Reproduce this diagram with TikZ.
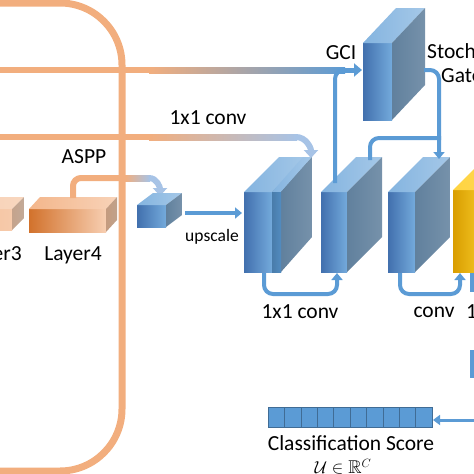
\documentclass[tikz,border=0pt]{standalone}
\usepackage{amssymb}
\usepackage{fontspec}
\setmainfont{Carlito}
\usetikzlibrary{arrows.meta}
\definecolor{corange}{HTML}{F2AE7E}
\definecolor{cblue}{HTML}{5B9BD5}
\definecolor{clblue}{HTML}{A7C3E6}
\definecolor{cdorange}{HTML}{D2722C}
\tikzset{
  bluefront/.style={left color=blue!10!cblue!80!black, right color=cblue!85!white},
  bluetop/.style={left color=cblue!75!white, right color=cblue!55!white},
  blueside/.style={left color=cblue!55!gray!90!black, right color=cblue!45!gray!95!white},
  bluedfront/.style={left color=cblue!80!black, right color=cblue!90!black},
  orfront/.style={left color=cdorange, right color=corange!60!white},
  ortop/.style={left color=corange!90!white, right color=corange!55!white},
  orside/.style={left color=corange!60!gray, right color=corange!50!gray!90!white},
  lorfront/.style={left color=corange!85!white, right color=corange!65!white},
  lortop/.style={left color=corange!60!white, right color=corange!50!white},
  lorside/.style={left color=corange!55!gray!90!white, right color=corange!45!gray!80!white},
  yfront/.style={left color=yellow!45!orange!85!black, right color=yellow!60!orange!80!white},
  ytop/.style={left color=yellow!55!orange!75!white, right color=yellow!50!orange!60!white},
  yside/.style={left color=yellow!50!orange!70!gray, right color=yellow!50!orange!60!gray},
  bconn/.style={draw=cblue, line width=4pt, rounded corners=9pt},
  bhead/.style={-{Triangle[width=11pt,length=7pt]}},
  lbl/.style={font=\fontsize{21.5}{25}\selectfont, inner sep=0pt},
  slbl/.style={font=\fontsize{17.5}{20}\selectfont, inner sep=0pt}
}
\newcommand{\cuboid}[7]{%
  \shade[#7front] (#1,#2) rectangle ++(#3,#4);
  \shade[#7top] (#1,#2) -- ++(#5,-#6) -- ++(#3,0) -- ++(-#5,#6) -- cycle;
  \shade[#7side] (#1+#3,#2) -- ++(#5,-#6) -- ++(0,#4) -- ++(-#5,#6) -- cycle;
}
\begin{document}
\begin{tikzpicture}[x=1pt,y=-1pt]
\useasboundingbox (0,0) rectangle (474,474);
\clip (0,0) rectangle (474,474);
% big rounded frame
\draw[corange, line width=7pt, rounded corners=62pt] (-30,3) -- (122,3) -- (122,471) -- (-30,471);
% top line into GCI
\coordinate (t0) at (0,70);
\coordinate (t1) at (150,70);
\draw[corange, line width=6pt] (t0) -- (t1);
\shade[left color=corange, right color=cblue] (149,67) rectangle (345,73);
% second line (1x1 conv)
\draw[corange, line width=6pt] (0,137) -- (150,137);
\shade[left color=corange, right color=clblue] (149,134) rectangle (297,140);
\draw[clblue, line width=6pt, -{Triangle[width=14pt,length=8pt]}] (296,137) to[out=0,in=90] (311,158);
% Layer3 and Layer4
\cuboid{-60}{209}{72}{21}{12}{12}{lor}
\cuboid{29}{209}{77}{23}{11}{12}{or}
\node[lbl, anchor=east] (l3) at (22,255) {Layer3};
\node[lbl] (l4) at (73,255) {Layer4};
% ASPP connector
\draw[corange, line width=6pt, rounded corners=8pt] (73,198) -- (73,178) -- (126,178);
\shade[left color=corange, right color=clblue] (125,175) rectangle (150,181);
\draw[clblue, line width=6pt, -{Triangle[width=14pt,length=8pt]}] (149,178) to[out=0,in=90] (160,196);
\node[lbl] (aspp) at (84,157) {ASPP};
\node[lbl] (c1) at (208,118) {1x1 conv};
% small cube
\cuboid{137}{205}{29}{22}{16}{12}{blue}
% upscale
\coordinate (u0) at (185,213);
\coordinate (u1) at (242,213);
\draw[cblue, line width=4pt, bhead] (u0) -- (u1);
\node[slbl] (up) at (212,237) {upscale};
% slabs
\cuboid{244}{192}{28}{80}{35}{35}{blue}
\cuboid{272}{192}{9}{80}{31}{35}{blue}
\shade[bluedfront] (272,192) rectangle (281,272);
\cuboid{321}{192}{26}{80}{35}{35}{blue}
\cuboid{388}{192}{27}{80}{35}{35}{blue}
\cuboid{453}{190}{40}{82}{35}{35}{y}
% GCI box
\cuboid{363}{43}{29}{77}{33}{35}{blue}
\node[lbl] (gci) at (341,53) {GCI};
\node[lbl, anchor=west] (sg1) at (427,51) {Stochastic};
\node[lbl, anchor=west] (sg2) at (441,76) {Gate};
% blue connectors
\draw[bconn] (335,183) -- (335,70) -- (350,70);
\draw[cblue, line width=5pt, -{Triangle[width=13pt,length=8pt]}] (340,70) -- (362,70);
\draw[bconn, bhead] (424,70) -- (439,70) -- (439,159);
\draw[bconn] (370,160) -- (370,138) -- (441,138);
\draw[bconn, bhead] (264,273) -- (264,294) -- (337,294) -- (337,273);
\node[lbl] (c2) at (300,312) {1x1 conv};
\draw[bconn, bhead] (400,273) -- (400,294) -- (460,294) -- (460,273);
\node[lbl] (c3) at (434,312) {conv};
\node[lbl, anchor=west] (c4) at (466,312) {1x1 conv};
\draw[bconn] (472,273) -- (472,292);
\draw[cblue, line width=4pt] (472,350) -- (472,378);
% classification score
\foreach \i in {0,...,9} {
  \draw[fill=cblue, draw=cblue!70!black, line width=0.6pt] (268+16.4*\i,407) rectangle ++(16.4,20);
}
\coordinate (cs) at (474,420);
\draw[cblue, line width=3pt, -{Triangle[width=10pt,length=7pt]}] (cs) -- (433,420);
\node[lbl] (cls) at (351,443) {Classification Score};
\node[font=\fontsize{18.5}{22}\selectfont, inner sep=0pt] (math) at (343,467) {$\mathcal{U}\in\mathbb{R}^{C}$};
\end{tikzpicture}
\end{document}
